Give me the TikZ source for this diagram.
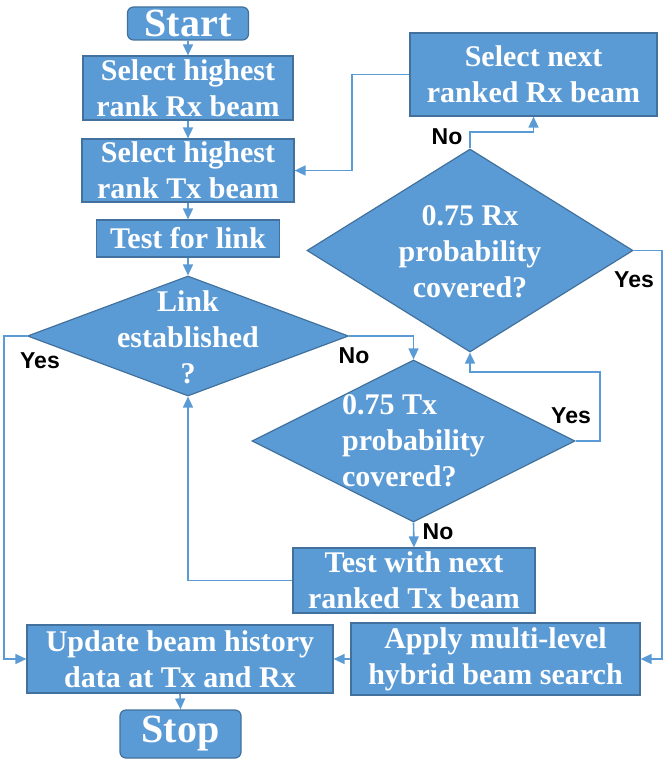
\documentclass[tikz,border=0pt]{standalone}
\usepackage{fontspec}
\setmainfont{Liberation Serif}
\newfontfamily\labfont{Liberation Sans}
\usetikzlibrary{shapes.geometric,arrows.meta}
\definecolor{boxfill}{HTML}{5B9BD5}
\definecolor{boxline}{HTML}{41719C}
\definecolor{conn}{HTML}{5B9BD5}
\tikzset{
  box/.style={draw=boxline, line width=1.2pt, fill=boxfill, text=white, inner sep=0pt,
    align=center, font=\bfseries\fontsize{30}{36}\selectfont},
  term/.style={box, rounded corners=6pt, font=\bfseries\fontsize{40}{44}\selectfont},
  dia/.style={diamond, draw=boxline, line width=1.2pt, fill=boxfill, inner sep=0pt},
  diatext/.style={text=white, inner sep=0pt, font=\bfseries\fontsize{30}{36}\selectfont},
  conline/.style={draw=conn, line width=1.6pt, -{Triangle[length=11pt,width=10pt]}},
  lab/.style={font=\labfont\bfseries\fontsize{23}{26}\selectfont, text=black, inner sep=0pt}
}
\begin{document}
\begin{tikzpicture}[x=1pt,y=-1pt]
\useasboundingbox (0,0) rectangle (668,760);
% nodes
\node[term, minimum width=121pt, minimum height=33pt] (start) at (188,23.5) {Start};
\node[box, minimum width=210pt, minimum height=64pt] (rx1) at (188,88) {Select highest\\rank Rx beam};
\node[box, minimum width=212pt, minimum height=63pt] (tx1) at (188,170.5) {Select highest\\rank Tx beam};
\node[box, minimum width=183pt, minimum height=37pt] (test) at (188,238.5) {Test for link};
\node[dia, minimum width=321pt, minimum height=120pt] (link) at (188,336) {};
\node[diatext, align=center] (linkt) at (188,337) {Link\\established\\?};
\node[dia, minimum width=323pt, minimum height=162pt] (txd) at (413.5,441) {};
\node[diatext, align=left] (txdt) at (413.5,441) {0.75 Tx\\probability\\covered?};
\node[dia, minimum width=326pt, minimum height=203pt] (rxd) at (470,250.5) {};
\node[diatext, align=center] (rxdt) at (470,252) {0.75 Rx\\probability\\covered?};
\node[box, minimum width=247pt, minimum height=83pt] (nextrx) at (533.5,74.5) {Select next\\ranked Rx beam};
\node[box, minimum width=242pt, minimum height=65pt] (nexttx) at (414,580.5) {Test with next\\ranked Tx beam};
\node[box, minimum width=306pt, minimum height=68pt] (update) at (180,659) {Update beam history\\data at Tx and Rx};
\node[box, minimum width=289pt, minimum height=72pt] (apply) at (495.5,659) {Apply multi-level\\hybrid beam search};
\node[term, minimum width=121pt, minimum height=48pt] (stop) at (180.5,734) {\raisebox{-3pt}{Stop}};
% helper coordinates
\coordinate (yl) at (4,336);
\coordinate (ry) at (600,441);
\coordinate (ryt) at (600,372);
\coordinate (rno) at (470,132);
\coordinate (rl) at (352,74.5);
\coordinate (rr) at (662,250.5);
% connectors
\draw[conline] (start) -- (rx1);
\draw[conline] (rx1) -- (tx1);
\draw[conline] (tx1) -- (test);
\draw[conline] (test) -- (link.north);
\draw[conline] (link.east) -| (txd.north);
\draw[conline] (link.west) -- (yl) |- (update.west);
\draw[conline] (txd.south) -- (nexttx.north);
\draw[conline] (nexttx.west) -| (link.south);
\draw[conline] (txd.east) -- (ry) -- (ryt) -| (rxd.south);
\draw[conline] (rxd.north) -- (rno) -| (nextrx.south);
\draw[conline] (nextrx.west) -- (rl) |- (tx1.east);
\draw[conline] (rxd.east) -- (rr) |- (apply.east);
\draw[conline] (apply.west) -- (update.east);
\draw[conline] (update.south) -- (stop.north);
% labels
\node[lab] (l1) at (447,137) {No};
\node[lab] (l2) at (634,280) {Yes};
\node[lab] (l3) at (40,361) {Yes};
\node[lab] (l4) at (354,356) {No};
\node[lab] (l5) at (571,416) {Yes};
\node[lab] (l6) at (438,532) {No};
\end{tikzpicture}
\end{document}
